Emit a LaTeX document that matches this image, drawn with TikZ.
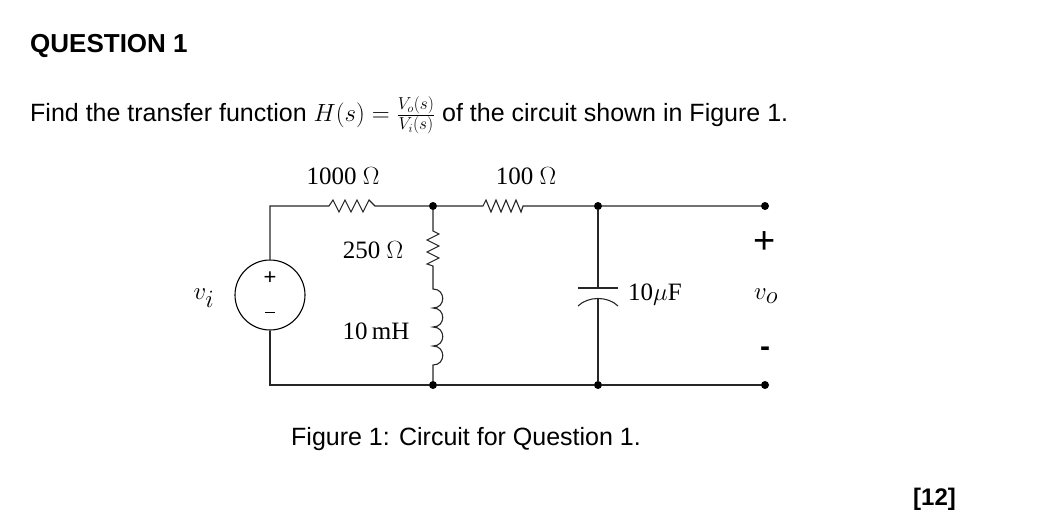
\documentclass[tikz,border=0pt]{standalone}
\usepackage{fontspec}
\setmainfont{Liberation Sans}
\newfontfamily\ckt{Liberation Serif}
\begin{document}
\begin{tikzpicture}[x=1pt,y=-1pt,
  wire/.style={line width=1.1pt,black!85},
  dotn/.style={circle,fill=black,inner sep=0pt,minimum size=8pt},
  lbl/.style={font=\ckt\fontsize{25}{25}\selectfont,inner sep=0pt},
  txt/.style={font=\fontsize{25}{25}\selectfont,inner sep=0pt,anchor=base west}]
\useasboundingbox (0,0) rectangle (1045,517);
\node[anchor=base west,inner sep=0pt,font=\bfseries\fontsize{26}{26}\selectfont] (q) at (30,52) {QUESTION 1};
\node[txt] (find) at (30,121) {Find the transfer function $H(s)=\frac{V_o(s)}{V_i(s)}$ of the circuit shown in Figure 1.};
\node[txt] (cap) at (291,445) {Figure 1: Circuit for Question 1.};
\node[anchor=base west,inner sep=0pt,font=\bfseries\fontsize{24}{24}\selectfont] (mk) at (913,505) {[12]};
% nodes
\coordinate (tl) at (270,206); \coordinate (bl) at (270,385);
\node[dotn] (n1) at (433,206) {}; \node[dotn] (n2) at (598,206) {}; \node[dotn] (n3) at (765,206) {};
\node[dotn] (b1) at (433,385) {}; \node[dotn] (b2) at (598,385) {}; \node[dotn] (b3) at (765,385) {};
\node[circle,draw,line width=1.1pt,minimum size=70pt,inner sep=0pt] (src) at (270,295) {};
\node[font=\fontsize{22}{22}\selectfont] at (270,278) {+};
\draw[line width=0.9pt] (265,312) -- (275,312);
% wires
\draw[wire] (src.south) -- (bl) -- (b1) -- (b2) -- (b3);
\draw[wire] (src.north) -- (tl) -- (329,206) -- (333,200) -- (339,212) -- (345,200) -- (351,212) -- (357,200) -- (363,212) -- (369,200) -- (375,206) -- (n1)
  -- (483,206) -- (486,200) -- (491,212) -- (496,200) -- (501,212) -- (506,200) -- (511,212) -- (516,200) -- (521,212) -- (523,206) -- (n2) -- (n3);
\draw[wire] (n1) -- (433,231) -- (439,234) -- (427,240) -- (439,246) -- (427,252) -- (439,258) -- (427,264) -- (433,266) -- (433,289)
  .. controls (446,289) and (446,308) .. (433,308)
  .. controls (446,308) and (446,327) .. (433,327)
  .. controls (446,327) and (446,346) .. (433,346)
  .. controls (446,346) and (446,365) .. (433,365) -- (b1);
\draw[wire] (n2) -- (598,288); \draw[wire] (578,288) -- (618,288);
\draw[wire] (578,306) .. controls (588,296) and (608,296) .. (618,306);
\draw[wire] (598,298.5) -- (b2);
% labels
\node[lbl] at (343,176) {1000 $\Omega$};
\node[lbl] at (526,176) {100 $\Omega$};
\node[lbl] at (373,250) {250 $\Omega$};
\node[lbl] at (376,331) {10\,mH};
\node[lbl] at (655,295) {10$\mu$F};
\node[lbl,font=\fontsize{34}{34}\selectfont] at (204,298) {$v_i$};
\node[lbl,font=\fontsize{34}{34}\selectfont] at (766,296) {$v_o$};
\node[lbl,font=\fontsize{38}{38}\selectfont] at (765,243) {+};
\node[lbl,font=\bfseries\fontsize{30}{30}\selectfont] at (765,352) {-};
\end{tikzpicture}
\end{document}
